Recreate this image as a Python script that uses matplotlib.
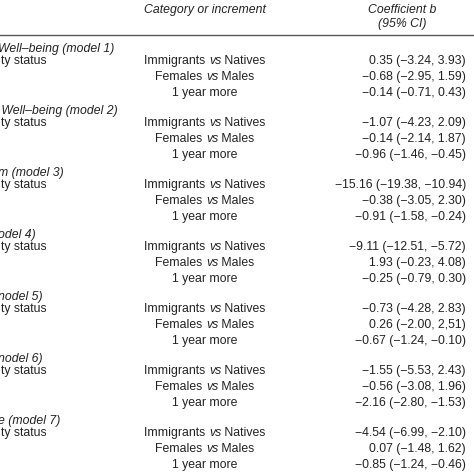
import matplotlib
matplotlib.use("Agg")
import matplotlib.pyplot as plt

models = ["Well–being (model 1)", " Well–being (model 2)", "m (model 3)", "odel 4)",
          "nodel 5)", "nodel 6)", "e (model 7)"]
factor_label = "ty status"
categories = [["Immigrants ", "vs", " Natives"], ["Females ", "vs", " Males"], ["1 year more"]]
coefs = [
    ["0.35 (−3.24, 3.93)", "−0.68 (−2.95, 1.59)", "−0.14 (−0.71, 0.43)"],
    ["−1.07 (−4.23, 2.09)", "−0.14 (−2.14, 1.87)", "−0.96 (−1.46, −0.45)"],
    ["−15.16 (−19.38, −10.94)", "−0.38 (−3.05, 2.30)", "−0.91 (−1.58, −0.24)"],
    ["−9.11 (−12.51, −5.72)", "1.93 (−0.23, 4.08)", "−0.25 (−0.79, 0.30)"],
    ["−0.73 (−4.28, 2.83)", "0.26 (−2.00, 2,51)", "−0.67 (−1.24, −0.10)"],
    ["−1.55 (−5.53, 2.43)", "−0.56 (−3.08, 1.96)", "−2.16 (−2.80, −1.53)"],
    ["−4.54 (−6.99, −2.10)", "0.07 (−1.48, 1.62)", "−0.85 (−1.24, −0.46)"],
]

W = H = 474
fig = plt.figure(figsize=(4.74, 4.74), dpi=100)
ax = fig.add_axes([0, 0, 1, 1])
ax.set_xlim(0, W); ax.set_ylim(H, 0); ax.axis("off")
fs = 8.8
col = "#222222"
kw = dict(fontsize=fs, color=col, family="Liberation Sans", va="baseline")
renderer = fig.canvas.get_renderer()

def width(t):
    bb = t.get_window_extent(renderer)
    return bb.width

ax.text(205, 13, "Category or increment", ha="center", style="italic", **kw)
ax.text(402, 13, "Coefficient b", ha="center", style="italic", **kw)
ax.text(402, 27, "(95% CI)", ha="center", style="italic", **kw)
ax.plot([0, W], [35, 35], color="#555555", lw=1)

for i, m in enumerate(models):
    y0 = 52 + 62 * i
    ax.text(-2, y0, m, ha="left", style="italic", **kw)
    ax.text(1, y0 + 12, factor_label, ha="left", **kw)
    for j, cat in enumerate(categories):
        y = y0 + 12 + 16 * j
        if len(cat) == 3:
            parts = [ax.text(0, y, cat[0], ha="left", **kw),
                     ax.text(0, y, cat[1], ha="left", style="italic", **kw),
                     ax.text(0, y, cat[2], ha="left", **kw)]
            ws = [width(p) for p in parts]
            x = 205 - sum(ws) / 2
            for p, w in zip(parts, ws):
                p.set_x(x); x += w
        else:
            ax.text(205, y, cat[0], ha="center", **kw)
        ax.text(466, y, coefs[i][j], ha="right", **kw)

fig.savefig("out.png", dpi=100, facecolor="white")
